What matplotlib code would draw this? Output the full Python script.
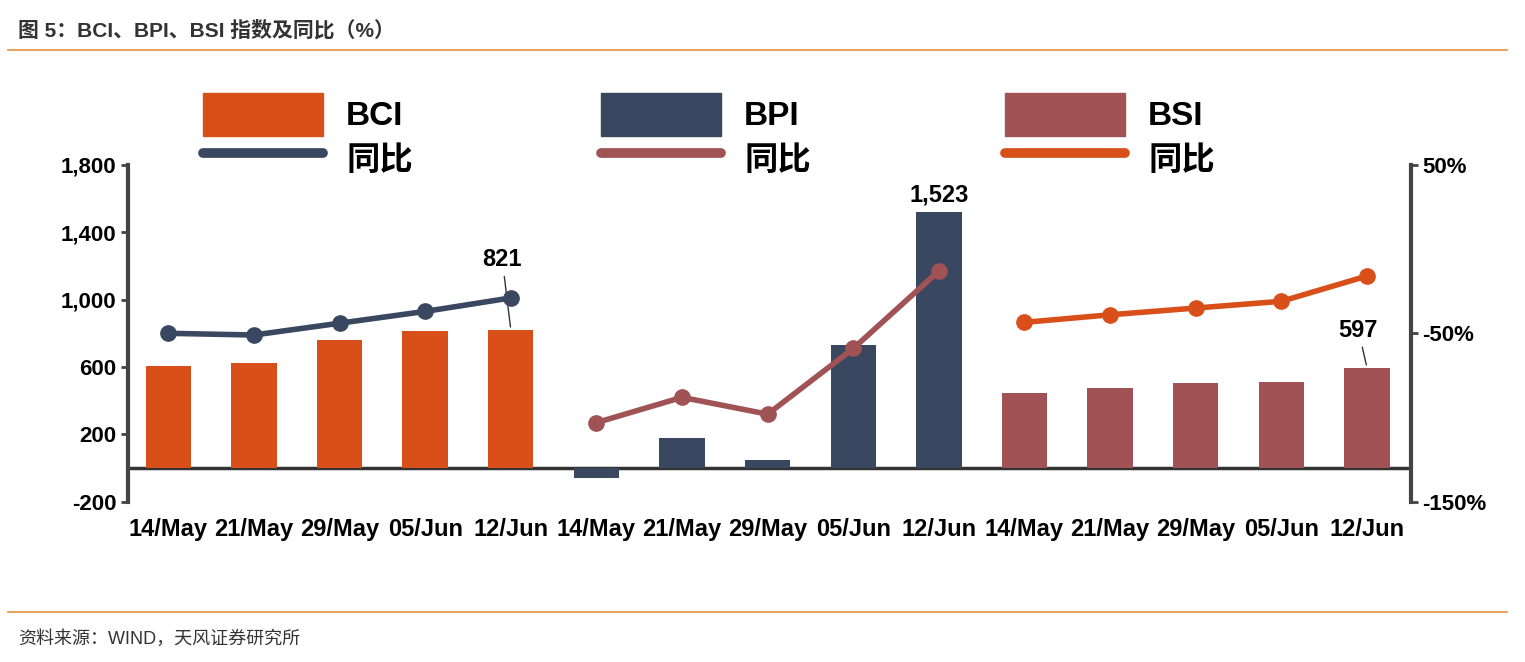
import matplotlib.pyplot as plt
from matplotlib.patches import Patch
from matplotlib.lines import Line2D

plt.rcParams['font.family'] = ['Liberation Sans', 'Noto Sans CJK SC', 'DejaVu Sans']

dates = ["14/May", "21/May", "29/May", "05/Jun", "12/Jun"]
bci = [605, 623, 760, 813, 821]
bpi = [-60, 178, 47, 730, 1523]
bsi = [445, 475, 504, 510, 597]
bci_yoy = [-50, -51, -44, -37, -29]
bpi_yoy = [-103, -88, -98, -59, -13]
bsi_yoy = [-43.5, -39, -35, -31, -16]

orange = "#D94F1A"
navy = "#3A4760"
rose = "#A05254"

fig = plt.figure(figsize=(15.25, 6.62), dpi=100)
ax = fig.add_axes([0.084, 0.242, 0.841, 0.509])
ax2 = ax.twinx()

groups = [(bci, bci_yoy, orange, navy), (bpi, bpi_yoy, navy, rose), (bsi, bsi_yoy, rose, orange)]
for g, (bars, yoy, bc, lc) in enumerate(groups):
    xs = [g * 5 + i for i in range(5)]
    ax.bar(xs, bars, width=0.53, color=bc, zorder=2)
    ax2.plot(xs, yoy, color=lc, lw=4, marker="o", ms=11, zorder=3)

ax.set_xticks(range(15))
ax.set_xticklabels(dates * 3, fontsize=17, fontweight="bold")
ax.set_xlim(-0.47, 14.51)
ax.set_ylim(-200, 1800)
ax.set_yticks([-200, 200, 600, 1000, 1400, 1800])
ax.set_yticklabels(["-200", "200", "600", "1,000", "1,400", "1,800"], fontsize=16, fontweight="bold")
ax.axhline(0, color="#333333", lw=2.5, zorder=1)
ax2.set_ylim(-150, 50)
ax2.set_yticks([-150, -50, 50])
ax2.set_yticklabels(["-150%", "-50%", "50%"], fontsize=16, fontweight="bold")
for a in (ax, ax2):
    for s in ("top", "bottom"):
        a.spines[s].set_visible(False)
    a.tick_params(axis="x", length=0, pad=12)
    a.tick_params(axis="y", width=2, length=5, color="#444444")
ax.spines["left"].set_linewidth(3)
ax.spines["left"].set_color("#444444")
ax.spines["right"].set_visible(False)
ax2.spines["left"].set_visible(False)
ax2.spines["right"].set_linewidth(3)
ax2.spines["right"].set_color("#444444")

# value labels
ax.annotate("821", xy=(4, bci[4]), xytext=(3.9, 1200), ha="center", fontsize=17, fontweight="bold",
            arrowprops=dict(arrowstyle="-", color="#333333", lw=1), zorder=5)
ax.text(9, bpi[4] + 60, "1,523", ha="center", fontsize=17, fontweight="bold")
ax.annotate("597", xy=(14, bsi[4]), xytext=(13.9, 780), ha="center", fontsize=17, fontweight="bold",
            arrowprops=dict(arrowstyle="-", color="#333333", lw=1), zorder=5)

# legends
for x0, name, bc, lc in [(0.122, "BCI", orange, navy), (0.383, "BPI", navy, rose), (0.648, "BSI", rose, orange)]:
    handles = [Patch(color=bc), Line2D([0], [0], color=lc, lw=7, solid_capstyle="round")]
    fig.legend(handles, [name, "同比"], loc="upper left", bbox_to_anchor=(x0, 0.885), frameon=False,
               handlelength=3.6, handleheight=1.6, prop=dict(size=24, weight="bold"), labelspacing=0.05,
               handletextpad=0.7, borderpad=0)

# title and footer
fig.text(0.012, 0.955, "图 5：BCI、BPI、BSI 指数及同比（%）", fontsize=15, fontweight="bold", color="#333333", va="center")
fig.add_artist(Line2D([0.005, 0.988], [0.925, 0.925], color="#E8903A", lw=1.2))
fig.add_artist(Line2D([0.005, 0.988], [0.075, 0.075], color="#E8903A", lw=1.2))
fig.text(0.012, 0.035, "资料来源：WIND，天风证券研究所", fontsize=13, color="#333333", va="center")

fig.savefig("out.png", dpi=100)
